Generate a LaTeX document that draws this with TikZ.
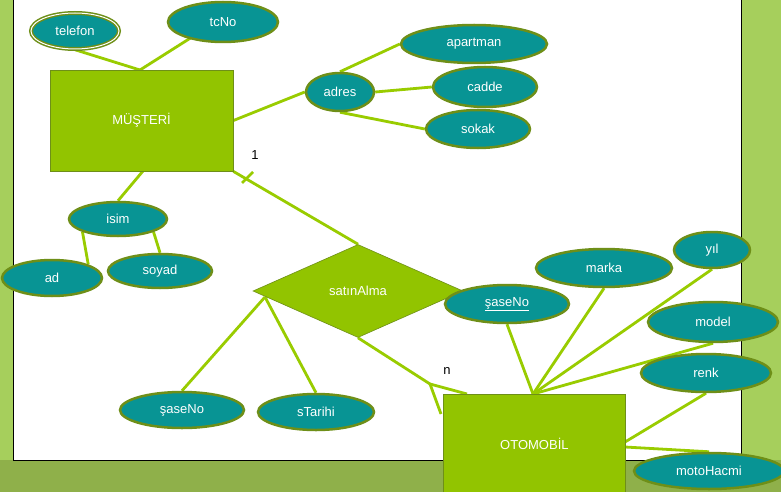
\documentclass[tikz,border=0pt]{standalone}
\usepackage{fontspec}
\setmainfont{Liberation Sans}
\usetikzlibrary{shapes.geometric,backgrounds}
\definecolor{ent}{HTML}{92C400}
\definecolor{att}{HTML}{089494}
\definecolor{attb}{HTML}{6E8F18}
\definecolor{ln}{HTML}{99CC00}
\definecolor{bgg}{HTML}{A6CF5C}
\definecolor{bgd}{HTML}{8FB04A}
\begin{document}
\begin{tikzpicture}[x=1pt,y=-1pt,
 ent/.style={draw=attb,line width=0.8pt,fill=ent,text=white,font=\fontsize{13}{15}\selectfont},
 att/.style={ellipse,draw=attb,line width=2.5pt,fill=att,text=white,inner sep=0pt,font=\fontsize{13}{15}\selectfont},
 rel/.style={diamond,fill=ent,draw=attb,line width=0.6pt,text=white,font=\fontsize{13}{15}\selectfont,aspect=2.2,inner sep=0pt},
 ln/.style={draw=ln,line width=2.8pt},
 lab/.style={font=\fontsize{13}{15}\selectfont}]
\useasboundingbox (0,0) rectangle (781,492);
% entities
\node[ent,minimum width=183pt,minimum height=101pt] (mus) at (141.5,120.5) {MÜŞTERİ};
\node[ent,minimum width=182pt,minimum height=100pt,anchor=north west] (oto) at (443,394) {OTOMOBİL};
\node[rel,minimum width=210pt,minimum height=93pt] (sat) at (358,291) {satınAlma};
% attributes
\node[att,minimum width=88pt,minimum height=36pt,double=white,double distance=1pt,line width=1.5pt] (tel) at (75,31) {telefon};
\node[att,minimum width=110pt,minimum height=40pt] (tc) at (223,22) {tcNo};
\node[att,minimum width=68pt,minimum height=38pt] (adr) at (340,92) {adres};
\node[att,minimum width=146pt,minimum height=38pt] (apt) at (474,44) {apartman};
\node[att,minimum width=104pt,minimum height=40pt] (cad) at (485,87) {cadde};
\node[att,minimum width=104pt,minimum height=38pt] (sok) at (478,129) {sokak};
\node[att,minimum width=98pt,minimum height=34pt] (isim) at (118,219) {isim};
\node[att,minimum width=100pt,minimum height=36pt] (ad) at (52,278) {ad};
\node[att,minimum width=104pt,minimum height=34pt] (soy) at (160,271) {soyad};
\node[att,minimum width=124pt,minimum height=36pt] (sas1) at (182,410) {şaseNo};
\node[att,minimum width=116pt,minimum height=36pt] (st) at (316,412) {sTarihi};
\node[att,minimum width=124pt,minimum height=38pt] (sas2) at (507,304) {\underline{şaseNo}};
\node[att,minimum width=136pt,minimum height=38pt] (mar) at (604,268) {marka};
\node[att,minimum width=76pt,minimum height=36pt] (yil) at (712,250) {yıl};
\node[att,minimum width=130pt,minimum height=40pt] (mod) at (713,322) {model};
\node[att,minimum width=130pt,minimum height=38pt] (ren) at (706,373) {renk};
\node[att,minimum width=150pt,minimum height=36pt] (mot) at (709,471) {motoHacmi};
\coordinate (mtop) at (140,70);
\coordinate (otop) at (533,394);
\coordinate (oc) at (430,384);
\coordinate (sl) at (265,297);
\node[lab] (one) at (255,155) {1};
\node[lab] (n) at (447,371) {n};
\begin{pgfonlayer}{background}
\fill[bgg] (0,0) rectangle (781,492);
\fill[bgd] (0,460) rectangle (781,492);
\fill[white] (13,0) rectangle (741,460);
\draw[black,line width=0.8pt] (13,0) -- (13,460) -- (741,460) -- (741,0);
\draw[ln] (tel.south) -- (mtop);
\draw[ln] (tc.south west) ++(12,-2) -- (mtop);
\draw[ln] (mus.east) -- (adr.west);
\draw[ln] (adr.north) -- (apt.west);
\draw[ln] (adr.east) -- (cad.west);
\draw[ln] (adr.south) -- (sok.west);
\draw[ln] (isim.north) -- (143,171);
\draw[ln] (isim.south west) -- (ad.north east);
\draw[ln] (isim.south east) -- (soy.north);
\draw[ln] (mus.south east) -- (sat.north);
\draw[ln] (242,183) -- (253,172);
\draw[ln] (sat.south) -- (oc);
\draw[ln] (oc) -- (467,394);
\draw[ln] (oc) -- (441,414);
\draw[ln] (sl) -- (sas1.north);
\draw[ln] (sl) -- (st.north);
\draw[ln] (otop) -- (sas2.south);
\draw[ln] (otop) -- (mar.south);
\draw[ln] (otop) -- (yil.south);
\draw[ln] (otop) -- (mod.south);
\draw[ln] (625,442) -- (ren.south);
\draw[ln] (625,447) -- (mot.north);
\end{pgfonlayer}
\end{tikzpicture}
\end{document}
